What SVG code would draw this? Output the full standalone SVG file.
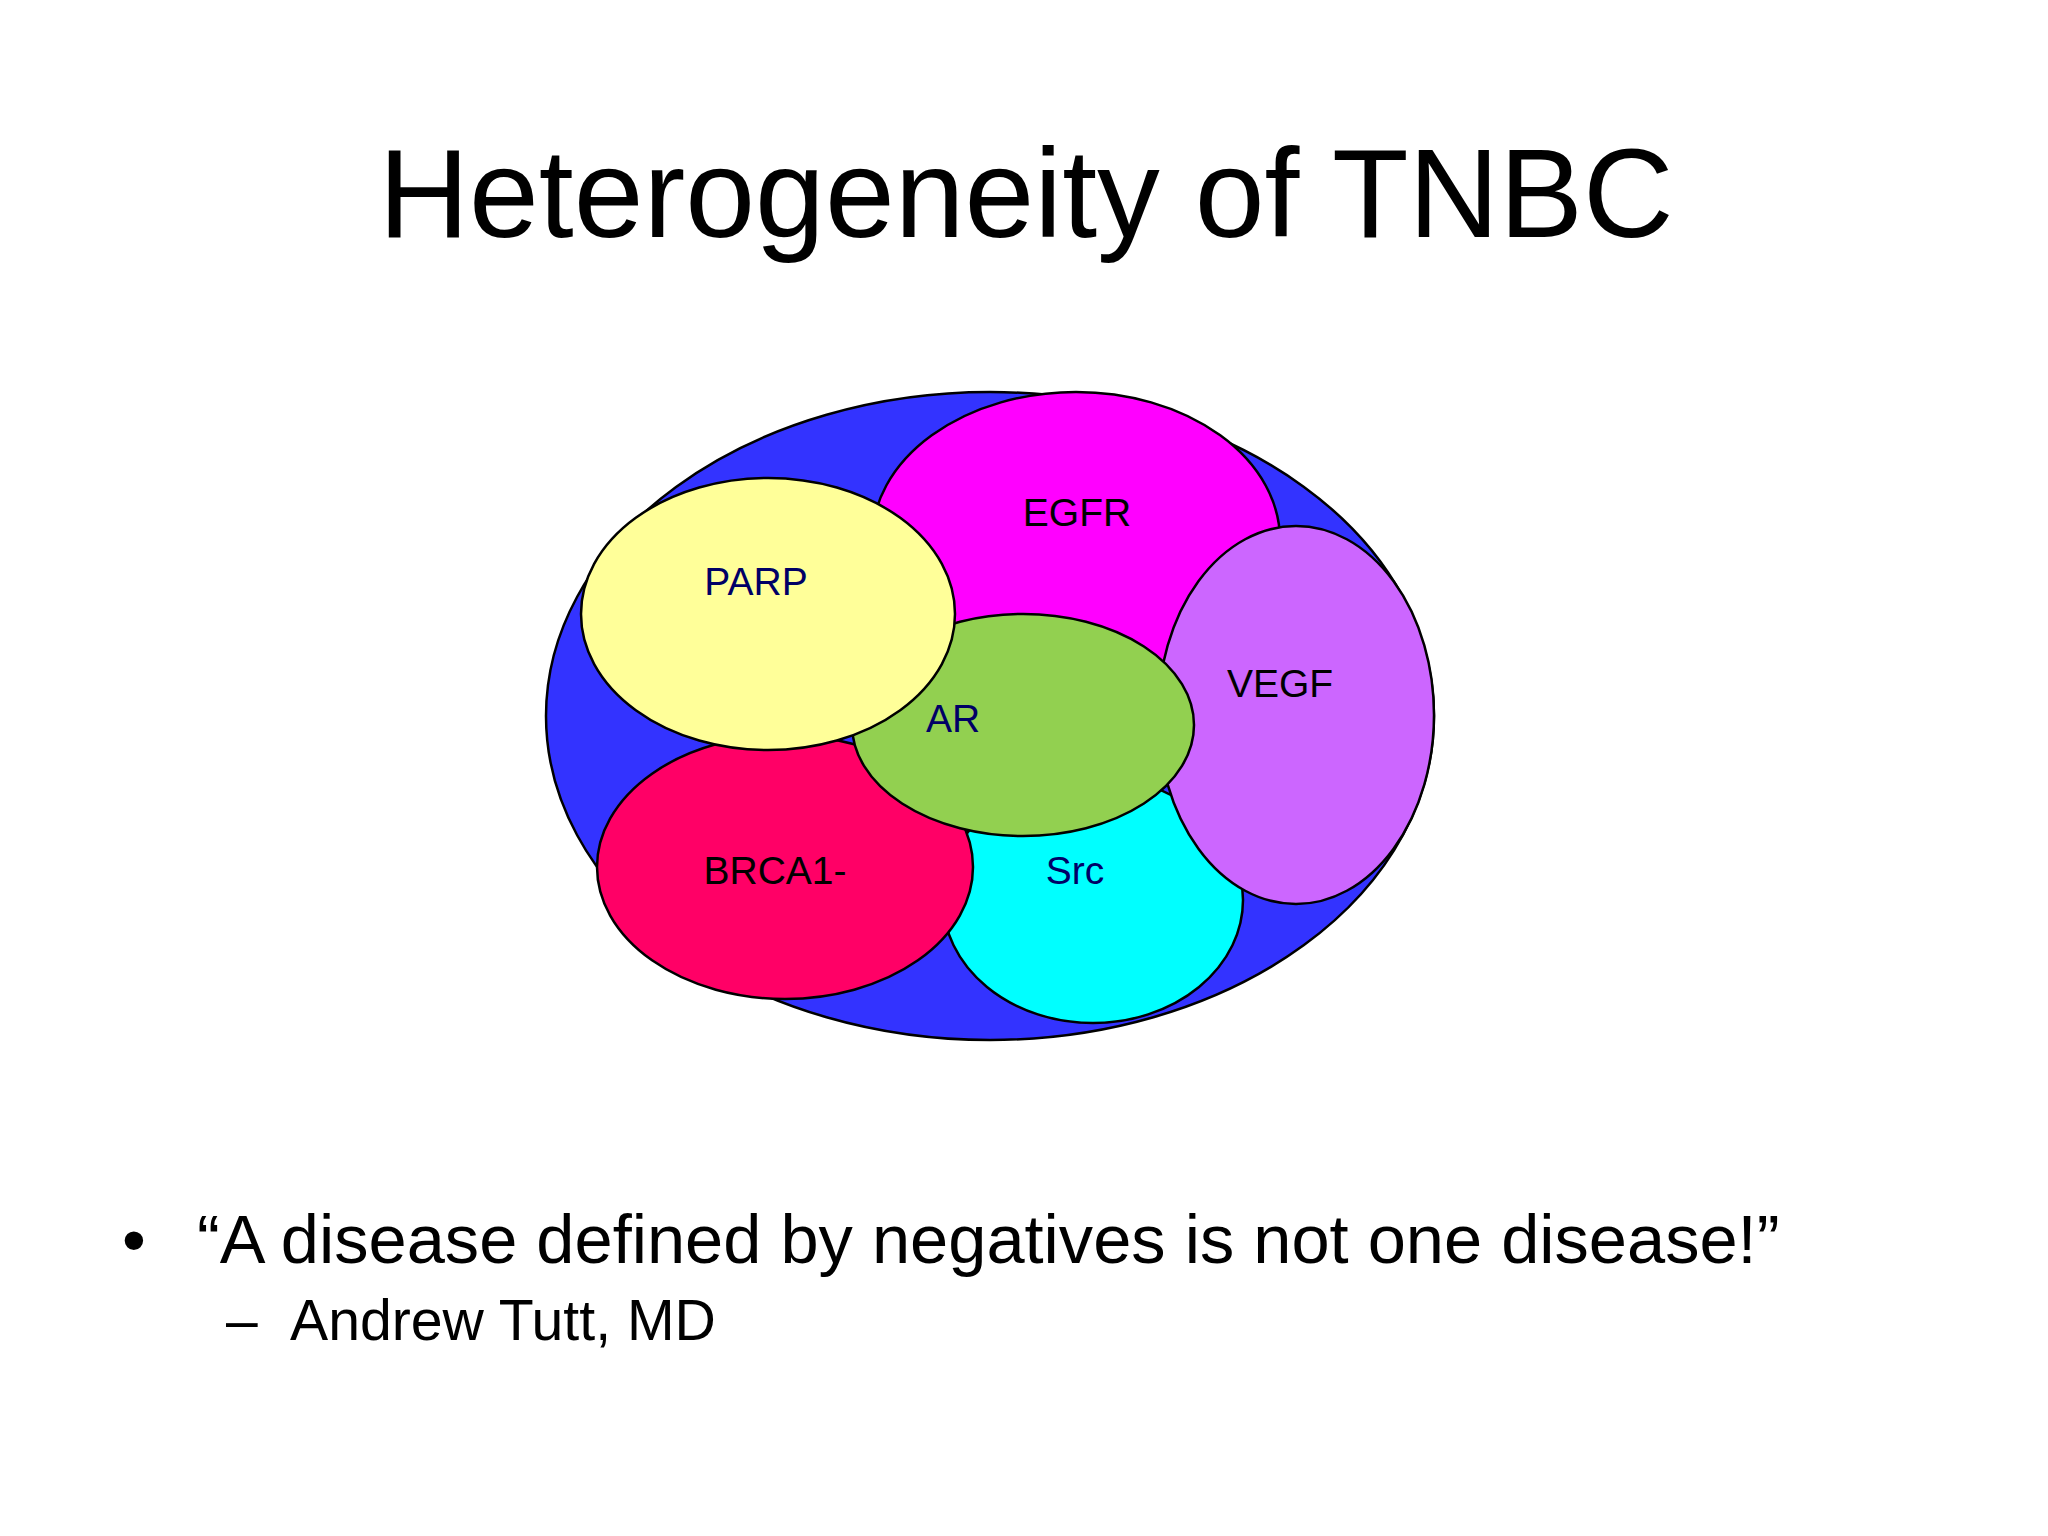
<svg xmlns="http://www.w3.org/2000/svg" width="2048" height="1536" viewBox="0 0 2048 1536">
<style>
.e{stroke:#000;stroke-width:2.5}
.lbl{font-family:"Liberation Sans",Arial,sans-serif;font-size:39px;text-anchor:middle}
.navy{fill:#000066}
.blk{fill:#000}
.txt{font-family:"Liberation Sans",Arial,sans-serif;fill:#000}
</style>
<rect width="2048" height="1536" fill="#fff"/>
<text class="txt" x="1026" y="237" font-size="125.5" text-anchor="middle">Heterogeneity of TNBC</text>
<g id="tnbc">
<ellipse class="e" cx="990" cy="716" rx="444" ry="324" fill="#3333FF"/>
</g>
<g id="egfr">
<ellipse class="e" cx="1076" cy="540" rx="204" ry="148" fill="#FF00FF"/>
<text class="lbl blk" x="1077" y="526">EGFR</text>
</g>
<g id="src">
<ellipse class="e" cx="1093" cy="900" rx="150" ry="123" fill="#00FFFF"/>
<text class="lbl navy" x="1075" y="884">Src</text>
</g>
<g id="vegf">
<ellipse class="e" cx="1296" cy="715" rx="138" ry="189" fill="#CC66FF"/>
<text class="lbl blk" x="1280" y="697">VEGF</text>
</g>
<g id="brca1">
<ellipse class="e" cx="785" cy="867" rx="188" ry="132" fill="#FF0066"/>
<text class="lbl blk" x="775" y="884">BRCA1-</text>
</g>
<g id="ar">
<ellipse class="e" cx="1023" cy="725" rx="171" ry="111" fill="#92D050"/>
<text class="lbl navy" x="953" y="732">AR</text>
</g>
<g id="parp">
<ellipse class="e" cx="768" cy="614" rx="187" ry="136" fill="#FFFF99"/>
<text class="lbl navy" x="756" y="595">PARP</text>
</g>
<g id="connectors"></g>
<text class="txt" x="122" y="1263" font-size="68">•</text>
<text class="txt" x="197" y="1263" font-size="68.6">“A disease defined by negatives is not one disease!”</text>
<text class="txt" x="226" y="1340" font-size="57">–</text>
<text class="txt" x="290" y="1340" font-size="57.2">Andrew Tutt, MD</text>
</svg>
